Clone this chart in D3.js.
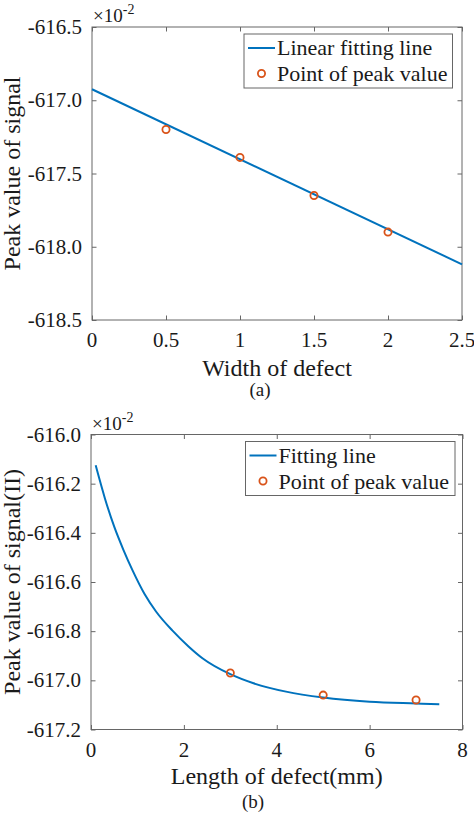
<!DOCTYPE html>
<html>
<head>
<meta charset="utf-8">
<script src="https://cdn.jsdelivr.net/npm/d3@7"></script>
<style>
  body { margin: 0; background: #fff; }
  svg { display: block; }
</style>
</head>
<body>
<div id="container"></div>
<script>
// (a) width of defect
const widthFitX = [0, 2.5];
const widthFitY = [-616.925, -618.12];
const widthPeakX = [0.5, 1, 1.5, 2];
const widthPeakY = [-617.20, -617.39, -617.65, -617.90];
const widthTicksX = [0, 0.5, 1, 1.5, 2, 2.5];
const widthTicksY = [-616.5, -617.0, -617.5, -618.0, -618.5];

// (b) length of defect
const lengthFitX = [0.1, 0.3, 0.5, 0.7, 0.9, 1.15, 1.4, 1.75, 2.1, 2.4, 3.0, 3.5, 4.2, 5.0, 6.0, 7.0, 7.5];
const lengthFitY = [-616.125, -616.26, -616.375, -616.47, -616.555, -616.648, -616.72, -616.797, -616.862, -616.91, -616.975, -617.012, -617.046, -617.07, -617.087, -617.094, -617.097];
const lengthPeakX = [3, 5, 7];
const lengthPeakY = [-616.97, -617.06, -617.08];
const lengthTicksX = [0, 2, 4, 6, 8];
const lengthTicksY = [-616.0, -616.2, -616.4, -616.6, -616.8, -617.0, -617.2];

const lineColor = '#0072BD';
const dotColor = '#D95319';
const axisColor = '#666';
const textColor = '#1a1a1a';
const serif = "'Liberation Serif'";

const svg = d3.select('#container')
  .append('svg')
  .attr('width', 474)
  .attr('height', 815);

// plain text helper so every label gets the same font
function label(g, str, size) {
  return g.append('text')
    .attr('font-family', serif)
    .attr('font-size', size)
    .attr('fill', textColor)
    .text(str);
}

function drawPanel(p) {
  const x = d3.scaleLinear().domain(p.xDomain).range([p.left, p.right]);
  const y = d3.scaleLinear().domain(p.yDomain).range([p.bottom, p.top]);
  const g = svg.append('g');

  // 1. inward ticks on all four sides (labels drawn separately)
  g.append('g')
    .attr('transform', `translate(0,${p.bottom})`)
    .call(d3.axisBottom(x).tickValues(p.xTicks).tickFormat('')
      .tickSizeInner(-4.5).tickSizeOuter(0));
  g.append('g')
    .attr('transform', `translate(0,${p.top})`)
    .call(d3.axisTop(x).tickValues(p.xTicks).tickFormat('')
      .tickSizeInner(-4.5).tickSizeOuter(0));
  g.append('g')
    .attr('transform', `translate(${p.left},0)`)
    .call(d3.axisLeft(y).tickValues(p.yTicks).tickFormat('')
      .tickSizeInner(-4.5).tickSizeOuter(0));
  g.append('g')
    .attr('transform', `translate(${p.right},0)`)
    .call(d3.axisRight(y).tickValues(p.yTicks).tickFormat('')
      .tickSizeInner(-4.5).tickSizeOuter(0));
  g.selectAll('.domain').remove();
  g.selectAll('.tick text').remove();
  g.selectAll('.tick line').attr('stroke', axisColor);

  // tick labels
  p.xTicks.forEach(t => {
    label(g, String(t), 21)
      .attr('x', x(t))
      .attr('y', p.bottom + 27)
      .attr('text-anchor', 'middle');
  });
  p.yTicks.forEach(t => {
    label(g, d3.format('.1f')(t).replace('\u2212', '-'), 21)
      .attr('x', p.left - 10)
      .attr('y', y(t) + 7)
      .attr('text-anchor', 'end');
  });

  g.append('rect')
    .attr('x', p.left).attr('y', p.top)
    .attr('width', p.right - p.left).attr('height', p.bottom - p.top)
    .attr('fill', 'none')
    .attr('stroke', axisColor)
    .attr('stroke-width', 1);

  // 2. exponent label
  const ex = label(g, '', 19)
    .attr('x', p.left + 1)
    .attr('y', p.top - 5);
  ex.append('tspan').text('\u00d710');
  ex.append('tspan').attr('dy', -8).attr('font-size', 14).text('-2');

  // 3. fitted line
  const line = d3.line()
    .x(d => x(d[0]))
    .y(d => y(d[1]))
    .curve(d3.curveMonotoneX);
  g.append('path')
    .datum(p.fitX.map((v, i) => [v, p.fitY[i]]))
    .attr('fill', 'none')
    .attr('stroke', lineColor)
    .attr('stroke-width', 2)
    .attr('d', line);

  // 4. peak points
  g.selectAll('circle.peak')
    .data(p.peakX.map((v, i) => [v, p.peakY[i]]))
    .enter()
    .append('circle')
    .attr('class', 'peak')
    .attr('cx', d => x(d[0]))
    .attr('cy', d => y(d[1]))
    .attr('r', 3.6)
    .attr('fill', 'none')
    .attr('stroke', dotColor)
    .attr('stroke-width', 1.8);

  // 5. legend
  const L = p.legend;
  g.append('rect')
    .attr('x', L.x).attr('y', L.y)
    .attr('width', L.w).attr('height', L.h)
    .attr('fill', '#fff')
    .attr('stroke', axisColor)
    .attr('stroke-width', 1);
  g.append('line')
    .attr('x1', L.x + 4).attr('x2', L.x + 31)
    .attr('y1', L.y + 14).attr('y2', L.y + 14)
    .attr('stroke', lineColor).attr('stroke-width', 2);
  label(g, p.lineName, 22)
    .attr('x', L.x + 33).attr('y', L.y + 21);
  g.append('circle')
    .attr('cx', L.x + 17.5).attr('cy', L.y + 39.5)
    .attr('r', 3.6)
    .attr('fill', 'none')
    .attr('stroke', dotColor)
    .attr('stroke-width', 1.8);
  label(g, 'Point of peak value', 22)
    .attr('x', L.x + 33).attr('y', L.y + 47);

  // 6. axis titles and caption
  label(g, p.xTitle, 24)
    .attr('x', (p.left + p.right) / 2)
    .attr('y', p.xTitleY)
    .attr('text-anchor', 'middle');
  label(g, p.yTitle, 24)
    .attr('transform', `translate(20,${(p.top + p.bottom) / 2}) rotate(-90)`)
    .attr('text-anchor', 'middle');
  label(g, p.caption, 19)
    .attr('x', p.captionX)
    .attr('y', p.captionY)
    .attr('text-anchor', 'middle');
}

drawPanel({
  left: 92, right: 462, top: 27, bottom: 320,
  xDomain: [0, 2.5], yDomain: [-618.5, -616.5],
  xTicks: widthTicksX, yTicks: widthTicksY,
  fitX: widthFitX, fitY: widthFitY,
  peakX: widthPeakX, peakY: widthPeakY,
  legend: { x: 244, y: 34, w: 208.5, h: 54 },
  lineName: 'Linear fitting line',
  xTitle: 'Width of defect', xTitleY: 376,
  yTitle: 'Peak value of signal',
  caption: '(a)', captionX: 260, captionY: 396
});

drawPanel({
  left: 91, right: 462.5, top: 434.5, bottom: 729.5,
  xDomain: [0, 8], yDomain: [-617.2, -616.0],
  xTicks: lengthTicksX, yTicks: lengthTicksY,
  fitX: lengthFitX, fitY: lengthFitY,
  peakX: lengthPeakX, peakY: lengthPeakY,
  legend: { x: 245.5, y: 441.5, w: 209.5, h: 54 },
  lineName: 'Fitting line',
  xTitle: 'Length of defect(mm)', xTitleY: 784,
  yTitle: 'Peak value of signal(II)',
  caption: '(b)', captionX: 253, captionY: 808
});
</script>
</body>
</html>
